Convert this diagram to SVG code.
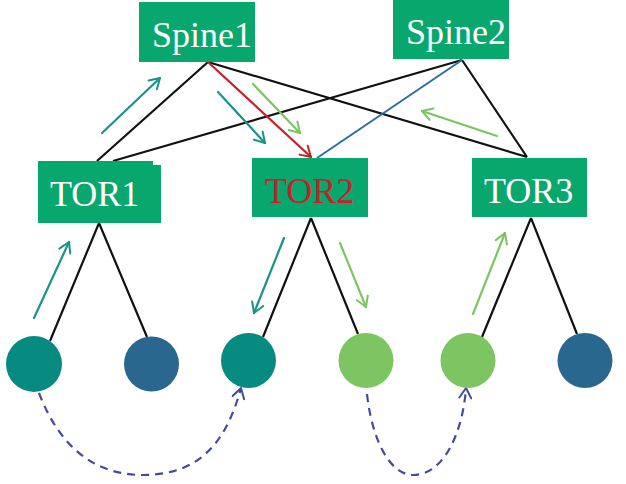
<svg xmlns="http://www.w3.org/2000/svg" width="626" height="484" viewBox="0 0 626 484">
<style>
.box{fill:#07a76e}
.lbl{font-family:"Liberation Serif","Times New Roman",serif;font-size:36px;fill:#fff}
.red{fill:#c8202a}
.k{stroke:#111;stroke-width:2.200;fill:none}
.a{stroke-width:2.200;fill:none;stroke-linecap:round;stroke-linejoin:round}
.t{stroke:#17948a}.g{stroke:#7cc562}.r{stroke:#c8202a}
.d{stroke:#454a9c;stroke-width:2.200;fill:none;stroke-dasharray:8 6}
.teal{fill:#078b80}.blue{fill:#2a678e}.lg{fill:#7cc562}
</style>
<defs>
<marker id="mt" viewBox="-12 -7 14 14" markerWidth="14" markerHeight="14" refX="0" refY="0" orient="auto" markerUnits="userSpaceOnUse"><path d="M-10 -6L0 0L-10 6" fill="none" stroke="#17948a" stroke-width="2" stroke-linecap="round" stroke-linejoin="round"/></marker>
<marker id="mg" viewBox="-12 -7 14 14" markerWidth="14" markerHeight="14" refX="0" refY="0" orient="auto" markerUnits="userSpaceOnUse"><path d="M-10 -6L0 0L-10 6" fill="none" stroke="#7cc562" stroke-width="2" stroke-linecap="round" stroke-linejoin="round"/></marker>
<marker id="mr" viewBox="-12 -7 14 14" markerWidth="14" markerHeight="14" refX="0" refY="0" orient="auto" markerUnits="userSpaceOnUse"><path d="M-10 -6L0 0L-10 6" fill="none" stroke="#c8202a" stroke-width="2" stroke-linecap="round" stroke-linejoin="round"/></marker>
<marker id="md" viewBox="-12 -7 14 14" markerWidth="14" markerHeight="14" refX="0" refY="0" orient="auto" markerUnits="userSpaceOnUse"><path d="M-10 -6L0 0L-10 6" fill="none" stroke="#454a9c" stroke-width="2" stroke-linecap="round" stroke-linejoin="round"/></marker>
</defs>
<g id="connectors">
<path class="k" d="M208 62L97 161M208 62L527 157M462 60L113 161M462 60L527 157M99 223L50 341M99 223L147 337M311 218L263 337M311 218L358 334M531 218L482 337M531 218L577 334"/>
<path d="M462 60L317 158" fill="none" stroke="#2a6f9e" stroke-width="2"/>
<path class="a r" d="M208 62L311 157" marker-end="url(#mr)"/>
<path class="a t" d="M102 133L160 78" marker-end="url(#mt)"/>
<path class="a t" d="M218 92L265 143" marker-end="url(#mt)"/>
<path class="a g" d="M253 84L300 133" marker-end="url(#mg)"/>
<path class="a g" d="M497 136L422 111" marker-end="url(#mg)"/>
<path class="a t" d="M34 318L69 242" marker-end="url(#mt)"/>
<path class="a t" d="M284 238L254 313" marker-end="url(#mt)"/>
<path class="a g" d="M340 243L366 307" marker-end="url(#mg)"/>
<path class="a g" d="M473 314L505 233" marker-end="url(#mg)"/>
<path class="d" d="M39 393C55 435 85 475 143 475C205 475 228 435 241 388" marker-end="url(#md)"/>
<path class="d" d="M367 394C372 440 390 475 413 475C445 475 463 430 466 388" marker-end="url(#md)"/>
</g>
<g id="spine1"><rect class="box" x="139" y="2" width="116" height="60"/><text class="lbl" x="152" y="47">Spine1</text></g>
<g id="spine2"><rect class="box" x="393" y="0" width="116" height="59"/><text class="lbl" x="406" y="44">Spine2</text></g>
<g id="tor1"><path class="box" d="M38 161H153V165H161V223H38Z"/><text class="lbl" x="50" y="206">TOR1</text></g>
<g id="tor2"><rect class="box" x="252" y="158" width="116" height="59"/><text class="lbl red" x="265" y="203">TOR2</text></g>
<g id="tor3"><rect class="box" x="472" y="158" width="115" height="59"/><text class="lbl" x="484" y="203">TOR3</text></g>
<g id="h1"><circle class="teal" cx="34" cy="364" r="28"/></g>
<g id="h2"><circle class="blue" cx="151.500" cy="364" r="27.500"/></g>
<g id="h3"><circle class="teal" cx="248.500" cy="360.500" r="27.500"/></g>
<g id="h4"><circle class="lg" cx="366" cy="360.500" r="27.500"/></g>
<g id="h5"><circle class="lg" cx="468" cy="360.500" r="27.500"/></g>
<g id="h6"><circle class="blue" cx="585" cy="360.500" r="27.500"/></g>
</svg>
